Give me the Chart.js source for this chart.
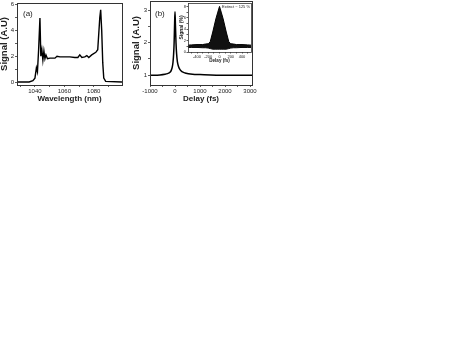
<!DOCTYPE html>
<html><head><meta charset="utf-8">
<script src="https://cdn.jsdelivr.net/npm/chart.js@4"></script>
<style>
html,body{margin:0;padding:0;background:#fff;width:474px;height:362px;overflow:hidden}
canvas{position:absolute}
</style></head><body>
<canvas id="ca" width="135" height="110" style="left:0px;top:0px"></canvas>
<canvas id="cb" width="140" height="110" style="left:128px;top:0px"></canvas>
<canvas id="ci" width="80" height="66" style="left:176px;top:0px"></canvas>
<script>
// ---- panel (a): spectrum ----
const wavelength = [1027.8, 1036, 1038.6, 1040, 1041, 1041.7, 1042.5, 1043.4, 1044, 1044.7, 1045.4, 1046.1, 1046.8, 1047.5, 1048.5, 1050.2, 1053.6, 1055, 1057, 1060.3, 1063.7, 1067.1, 1069.2, 1070.5, 1071.9, 1073.9, 1075.3, 1076.6, 1078.6, 1081.4, 1082.7, 1084.1, 1084.7, 1085.4, 1086.1, 1086.8, 1088.1, 1099.2];
const spectrum   = [0, 0, 0.1, 0.3, 1.1, 0.8, 2.5, 4.95, 2.0, 2.5, 1.7, 2.4, 1.8, 2.1, 1.8, 1.85, 1.85, 2.0, 1.95, 1.95, 1.95, 1.9, 1.9, 2.1, 1.9, 1.95, 2.05, 1.9, 2.1, 2.3, 2.5, 5.0, 5.6, 4.0, 1.5, 0.3, 0.05, 0];
const wlTicks  = [1030, 1040, 1050, 1060, 1070, 1080, 1090];
const wlLabels = [1040, 1060, 1080];
const sigATicks  = [0, 1, 2, 3, 4, 5, 6];
const sigALabels = [0, 2, 4, 6];

// ---- panel (b): autocorrelation ----
const delay   = [-1000, -600, -400, -300, -200, -150, -110, -80, -55, -35, -15, 0, 15, 40, 65, 95, 140, 200, 300, 400, 700, 1000, 2000, 3080];
const signalB = [1.0, 1.01, 1.03, 1.05, 1.09, 1.15, 1.25, 1.4, 1.65, 2.0, 2.6, 2.95, 2.6, 2.0, 1.65, 1.42, 1.27, 1.17, 1.1, 1.07, 1.03, 1.02, 1.0, 1.0];
const delayTicks  = [-1000, -500, 0, 500, 1000, 1500, 2000, 2500, 3000];
const delayLabels = [-1000, 0, 1000, 2000, 3000];
const sigBTicks  = [1, 1.5, 2, 2.5, 3];
const sigBLabels = [1, 2, 3];

// ---- inset: interferometric trace envelope ----
const insetDelay = [-560, -500, -400, -300, -250, -200, -165, -120, -65, -30, 0, 30, 65, 120, 165, 200, 250, 300, 400, 500, 560];
const insetUpper = [1.2, 1.25, 1.3, 1.3, 1.4, 1.45, 1.8, 3.5, 5.8, 7.0, 8.0, 7.0, 5.8, 3.5, 1.8, 1.45, 1.4, 1.3, 1.3, 1.25, 1.2];
const insetLower = [0.8, 0.8, 0.8, 0.75, 0.75, 0.7, 0.6, 0.5, 0.5, 0.5, 0.5, 0.5, 0.5, 0.5, 0.6, 0.7, 0.75, 0.75, 0.8, 0.8, 0.8];
const insetXTicks  = [-500, -400, -300, -200, -100, 0, 100, 200, 300, 400, 500];
const insetXLabels = [-400, -200, 0, 200, 400];
const insetYTicks  = [0, 1, 2, 3, 4, 5, 6, 7, 8];
const insetYLabels = [0, 2, 4, 6, 8];

const FONT = "'Liberation Sans', Arial, sans-serif";

function scale(o) {
  return {
    type: 'linear', min: o.min, max: o.max,
    afterBuildTicks: s => { s.ticks = o.tickVals.map(v => ({value: v})); },
    afterFit: s => {
      if (o.isX) s.height = o.size; else s.width = o.size;
      s.paddingLeft = s.paddingRight = s.paddingTop = s.paddingBottom = 0;
    },
    grid: {display: true, drawOnChartArea: false, drawTicks: true, tickLength: o.tickLen, color: '#333', lineWidth: 0.8},
    border: {display: false},
    ticks: {autoSkip: false, maxRotation: 0, minRotation: 0, padding: o.tickPad, color: '#222',
      font: {family: FONT, size: o.tickSize},
      callback: v => o.labelVals.includes(v) ? String(v) : ''},
    title: {display: true, text: o.title, color: '#222',
      font: {family: FONT, size: o.titleSize, weight: 'bold', lineHeight: o.titleLH},
      padding: o.titlePad}
  };
}

const framePlugin = {
  id: 'frame',
  beforeDraw(chart, args, opts) {
    if (opts.whiteArea) {
      const a = chart.chartArea, c = chart.ctx;
      c.save(); c.fillStyle = '#fff'; c.fillRect(a.left, a.top, a.right - a.left, a.bottom - a.top); c.restore();
    }
  },
  afterDraw(chart, args, opts) {
    const a = chart.chartArea, c = chart.ctx;
    c.save();
    c.strokeStyle = '#333'; c.lineWidth = opts.lw || 1;
    c.strokeRect(Math.round(a.left) + 0.5, Math.round(a.top) + 0.5, Math.round(a.right - a.left), Math.round(a.bottom - a.top));
    (opts.notes || []).forEach(n => {
      c.fillStyle = '#222'; c.font = n.font; c.textAlign = n.align || 'left'; c.textBaseline = 'middle';
      c.fillText(n.text, n.x, n.y);
    });
    c.restore();
  }
};
Chart.register(framePlugin);

function pts(xs, ys) { return xs.map((x, i) => ({x: x, y: ys[i]})); }

const common = {
  responsive: false, animation: false, devicePixelRatio: 1,
  plugins: {legend: {display: false}, tooltip: {enabled: false}}
};

// Panel (a)
new Chart(document.getElementById('ca'), {
  type: 'line',
  data: {datasets: [{data: pts(wavelength, spectrum), borderColor: '#000', borderWidth: 1.4, pointRadius: 0, tension: 0, fill: false}]},
  options: Object.assign({}, common, {
    layout: {padding: {left: 0, top: 3, right: 13, bottom: 0}},
    plugins: Object.assign({}, common.plugins, {frame: {notes: [{text: '(a)', x: 23, y: 13.5, font: '8px ' + FONT}]}}),
    scales: {
      x: scale({isX: true, min: 1027.8, max: 1099.2, tickVals: wlTicks, labelVals: wlLabels, size: 25, tickLen: 2, tickPad: 1, tickSize: 6,
        title: 'Wavelength (nm)', titleSize: 8, titleLH: 1.2, titlePad: {top: 0, bottom: 6}}),
      y: scale({isX: false, min: -0.23, max: 6.12, tickVals: sigATicks, labelVals: sigALabels, size: 17, tickLen: 2, tickPad: 1, tickSize: 6,
        title: 'Signal (A.U)', titleSize: 9.5, titleLH: 1, titlePad: {top: 0, bottom: 0}})
    }
  })
});

// Panel (b)
new Chart(document.getElementById('cb'), {
  type: 'line',
  data: {datasets: [{data: pts(delay, signalB), borderColor: '#000', borderWidth: 1.5, pointRadius: 0, cubicInterpolationMode: 'monotone', fill: false}]},
  options: Object.assign({}, common, {
    layout: {padding: {left: 0, top: 1, right: 16, bottom: 0}},
    plugins: Object.assign({}, common.plugins, {frame: {notes: [{text: '(b)', x: 27, y: 13.5, font: '8px ' + FONT}]}}),
    scales: {
      x: scale({isX: true, min: -1000, max: 3080, tickVals: delayTicks, labelVals: delayLabels, size: 25, tickLen: 2, tickPad: 1, tickSize: 6,
        title: 'Delay (fs)', titleSize: 8, titleLH: 1.2, titlePad: {top: 0, bottom: 6}}),
      y: scale({isX: false, min: 0.7, max: 3.28, tickVals: sigBTicks, labelVals: sigBLabels, size: 22, tickLen: 2, tickPad: 1, tickSize: 6,
        title: 'Signal (A.U)', titleSize: 9.5, titleLH: 1, titlePad: {top: 4, bottom: 0}})
    }
  })
});

// Inset
new Chart(document.getElementById('ci'), {
  type: 'line',
  data: {datasets: [
    {data: pts(insetDelay, insetUpper), borderColor: '#000', borderWidth: 1, pointRadius: 0, tension: 0, fill: '+1', backgroundColor: '#111'},
    {data: pts(insetDelay, insetLower), borderColor: '#000', borderWidth: 1, pointRadius: 0, tension: 0, fill: false}
  ]},
  options: Object.assign({}, common, {
    layout: {padding: {left: 0, top: 3, right: 5, bottom: 0}},
    plugins: Object.assign({}, common.plugins, {frame: {whiteArea: true, lw: 0.8,
      notes: [{text: 'Extinct ~ 125 %', x: 74, y: 7, font: '4px ' + FONT, align: 'right'}]}}),
    scales: {
      x: scale({isX: true, min: -560, max: 560, tickVals: insetXTicks, labelVals: insetXLabels, size: 14, tickLen: 1.5, tickPad: 0.5, tickSize: 4,
        title: 'Delay (fs)', titleSize: 4.5, titleLH: 1.2, titlePad: {top: 0, bottom: 2.3}}),
      y: scale({isX: false, min: 0, max: 8.6, tickVals: insetYTicks, labelVals: insetYLabels, size: 12, tickLen: 1.5, tickPad: 0.5, tickSize: 4,
        title: 'Signal (%)', titleSize: 5, titleLH: 1, titlePad: {top: 3.5, bottom: 0}})
    }
  })
});
</script>
</body></html>
